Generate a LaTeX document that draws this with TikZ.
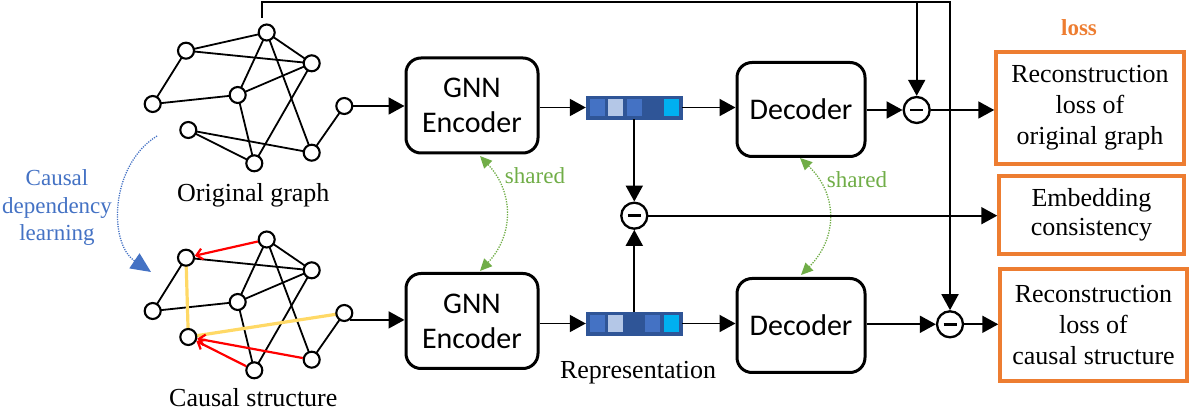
\documentclass[tikz,border=0pt]{standalone}
\usepackage{fontspec}
\setmainfont{Liberation Serif}
\newfontfamily\calfont{Carlito}
\usetikzlibrary{arrows.meta}
\definecolor{arrred}{HTML}{FF0000}
\definecolor{yel}{HTML}{FFD966}
\definecolor{lossor}{HTML}{ED7D31}
\definecolor{vecdark}{HTML}{2F5597}
\definecolor{vblue}{HTML}{4472C4}
\definecolor{vlight}{HTML}{B4C7E7}
\definecolor{vcyan}{HTML}{00B0F0}
\definecolor{sgreen}{HTML}{70AD47}
\definecolor{cblue}{HTML}{4472C4}
\tikzset{
 vtx/.style={circle,draw,line width=2.1pt,minimum size=16pt,inner sep=0pt,fill=white},
 edg/.style={line width=1.8pt},
 redarr/.style={line width=2.2pt,draw=arrred,-{Straight Barb[length=6pt,width=11pt]}},
 yelline/.style={line width=3.2pt,draw=yel},
 blk/.style={rounded corners=15pt,draw,line width=3pt,minimum width=132pt,minimum height=95pt,font=\calfont\fontsize{30}{35}\selectfont,align=center,inner sep=0pt},
 arrowconn/.style={line width=1.9pt,-{Triangle[length=16pt,width=17pt]}},
 minusnode/.style={circle,draw,line width=2.3pt,minimum size=26pt,inner sep=0pt,fill=white,
   path picture={\draw[line width=2.6pt] ([xshift=-6.5pt]path picture bounding box.center) -- ([xshift=6.5pt]path picture bounding box.center);}},
 lossbox/.style={draw=lossor,line width=3.5pt,align=center,font=\fontsize{26}{31}\selectfont,inner sep=0pt},
 vecbox/.style={fill=vecdark,draw=vecdark,minimum width=96pt,minimum height=23pt,inner sep=0pt},
 cellbox/.style={minimum width=15pt,minimum height=17pt,inner sep=0pt},
 sharedarr/.style={draw=sgreen,line width=1.3pt,dash pattern=on 1.3pt off 1.3pt,{Triangle[length=12pt,width=11pt]}-{Triangle[length=12pt,width=11pt]}},
 lbl/.style={font=\fontsize{26}{30}\selectfont,inner sep=0pt},
}
\begin{document}
\begin{tikzpicture}[x=1pt,y=-1pt]
\useasboundingbox (0,0) rectangle (1189,411);
% ---------- original graph ----------
\foreach \n/\x/\y in {1/266.7/32.5,2/186/50.7,3/311.7/63.3,4/152.7/104,5/237.7/95,6/344.3/106,7/188.3/130,8/254.3/163.3,9/311.7/152.7}{
  \coordinate (pn\n) at (\x,\y);
  \coordinate (pc\n) at (\x,\y+207);
}
\foreach \a/\b in {1/2,1/3,1/5,1/9,2/3,2/4,4/5,5/3,3/8,5/8,7/8,7/9,6/9}
  \draw[edg] (pn\a) -- (pn\b);
\foreach \n in {1,...,9} \node[vtx] (n\n) at (pn\n) {};
\node[lbl] (lorig) at (253.3,195) {Original graph};
% ---------- causal structure ----------
\foreach \a/\b in {1/3,1/5,1/9,2/3,2/4,4/5,5/3,3/8,5/8,6/9}
  \draw[edg] (pc\a) -- (pc\b);
\draw[yelline] (pc2) -- (pc7);
\draw[yelline] (pc6) -- (pc7);
\foreach \n in {1,...,9} \node[vtx] (c\n) at (pc\n) {};
\draw[redarr] (c1) -- (c2);
\draw[redarr] (c9) -- (c7);
\draw[redarr] (c8) -- (c7);
\node[lbl] (lcaus) at (253.3,398) {Causal structure};
% ---------- causal dependency learning ----------
\node[font=\fontsize{23}{27.5}\selectfont,text=cblue,align=center,inner sep=0pt] (cdl) at (57,208) {Causal\\dependency\\learning};
\coordinate (cda) at (157,136);
\coordinate (cdb) at (151,272);
\draw[draw=cblue,line width=1.3pt,dash pattern=on 1.2pt off 1.2pt,-{Triangle[length=20pt,width=18pt,fill=cblue]}] (cda) .. controls (110,165) and (108,243) .. (cdb);
% ---------- encoders ----------
\node[blk] (enc1) at (472,105.5) {GNN\\Encoder};
\node[blk] (enc2) at (472,321) {GNN\\Encoder};
% ---------- vectors ----------
\node[vecbox] (vec1) at (634,107.5) {};
\node[vecbox] (vec2) at (634,323.5) {};
\foreach \c [count=\i] in {vblue,vlight,vblue,vecdark,vcyan}
  \node[cellbox,fill=\c] (va\i) at ([xshift={(\i-3)*18.5pt}]vec1.center) {};
\foreach \c [count=\i] in {vblue,vlight,vecdark,vblue,vcyan}
  \node[cellbox,fill=\c] (vb\i) at ([xshift={(\i-3)*18.5pt}]vec2.center) {};
\node[lbl] (lrep) at (638,373) {Representation};
% ---------- decoders ----------
\node[blk,minimum width=128pt,minimum height=94pt] (dec1) at (801,109.5) {Decoder};
\node[blk,minimum width=128pt,minimum height=94pt] (dec2) at (801,325.5) {Decoder};
% ---------- minus nodes ----------
\node[minusnode] (m1) at (916.7,110) {};
\node[minusnode] (m2) at (634.3,215.7) {};
\node[minusnode] (m3) at (950,324.3) {};
% ---------- loss boxes ----------
\node[font=\bfseries\fontsize{23}{27}\selectfont,text=lossor,inner sep=0pt] (lloss) at (1079,28) {loss};
\node[lossbox,minimum width=188pt,minimum height=112pt] (box1) at (1090,108) {Reconstruction\\loss of\\original graph};
\node[lossbox,minimum width=185pt,minimum height=78pt,font=\fontsize{26}{28.5}\selectfont] (box2) at (1091.5,215) {Embedding\\consistency};
\node[lossbox,minimum width=187pt,minimum height=112pt] (box3) at (1093.5,325) {Reconstruction\\loss of\\causal structure};
% ---------- shared ----------
\coordinate (s1a) at (480,156);
\coordinate (s1b) at (480,271);
\draw[sharedarr] (s1a) .. controls (514,192) and (514,235) .. (s1b);
\node[font=\fontsize{23}{27}\selectfont,text=sgreen,inner sep=0pt] (sh1) at (535,176) {shared};
\coordinate (s2a) at (800,158);
\coordinate (s2b) at (801,275);
\draw[sharedarr] (s2a) .. controls (838,194) and (838,238) .. (s2b);
\node[font=\fontsize{23}{27}\selectfont,text=sgreen,inner sep=0pt] (sh2) at (857,180) {shared};
% ---------- connectors ----------
\draw[arrowconn] (n6.east) -- (n6.east -| enc1.west);
\draw[arrowconn] (c6.-50) -- (c6.-50 -| enc2.west);
\draw[arrowconn] (enc1.east |- vec1) -- (vec1.west);
\draw[arrowconn] (enc2.east |- vec2) -- (vec2.west);
\draw[arrowconn] (vec1.east) -- (vec1.east -| dec1.west);
\draw[arrowconn] (vec2.east) -- (vec2.east -| dec2.west);
\draw[arrowconn] (vec1.south -| m2) -- (m2.north);
\draw[arrowconn] (vec2.north -| m2) -- (m2.south);
\draw[arrowconn] (dec1.east |- m1) -- (m1.west);
\draw[arrowconn] (dec2.east |- m3) -- (m3.west);
\draw[arrowconn] (m1.east) -- (m1.east -| box1.west);
\draw[arrowconn] (m2.east) -- (m2.east -| box2.west);
\draw[arrowconn] (m3.east) -- (m3.east -| box3.west);
\coordinate (tA) at (262,18);
\coordinate (tB) at (950,2);
\draw[arrowconn] (tA) |- (tB) -- (m3.north);
\draw[arrowconn] (m1.north |- tB) -- (m1.north);
\end{tikzpicture}
\end{document}
